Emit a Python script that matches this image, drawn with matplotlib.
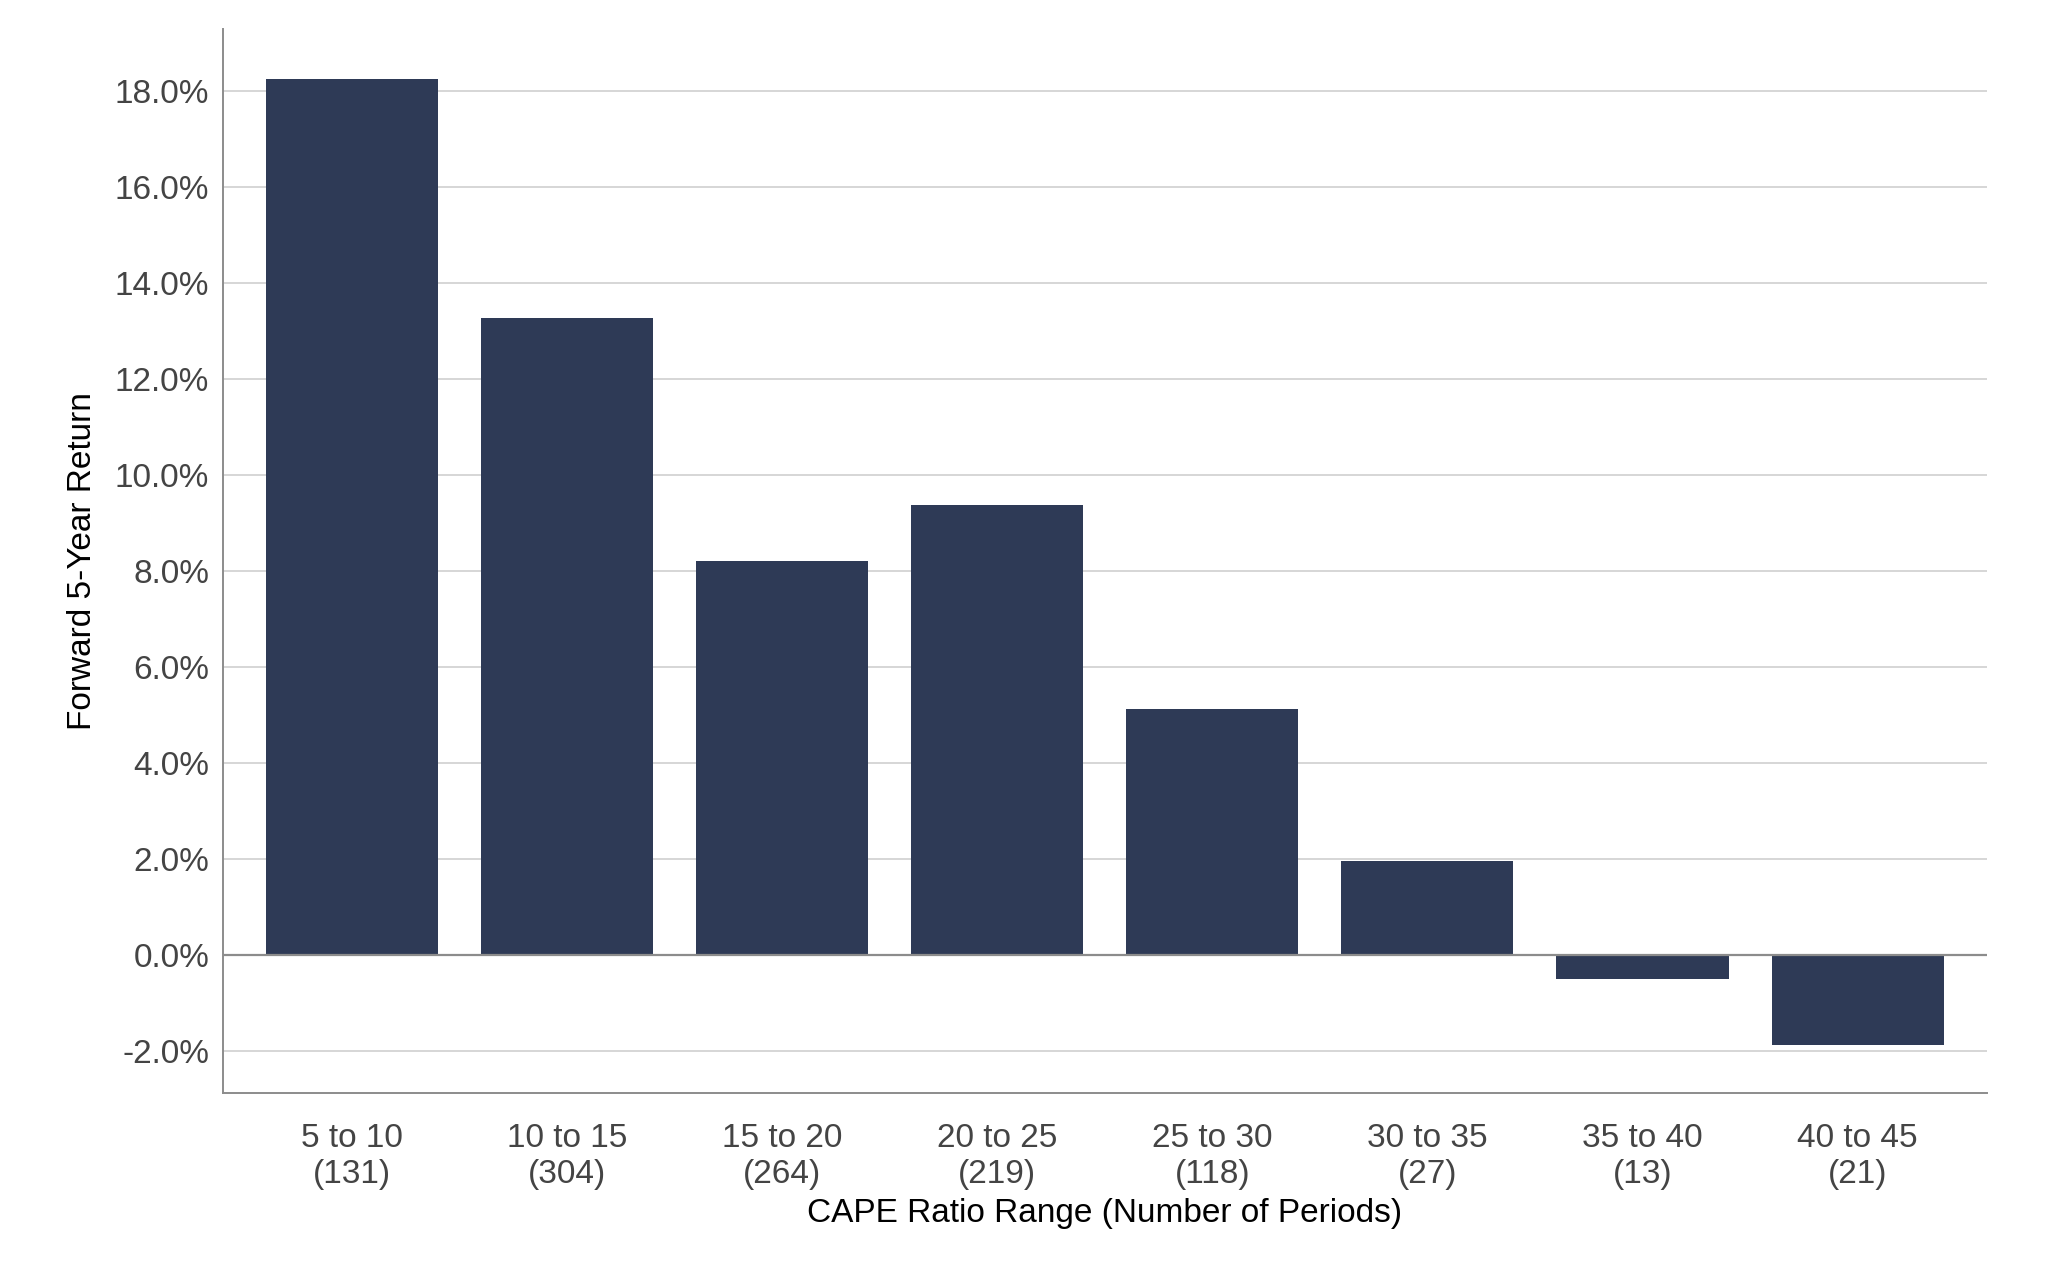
import numpy as np
import matplotlib.pyplot as plt
from matplotlib.ticker import FuncFormatter

plt.rcParams['font.family'] = ['Liberation Sans', 'DejaVu Sans']

ranges = ["5 to 10", "10 to 15", "15 to 20", "20 to 25", "25 to 30", "30 to 35", "35 to 40", "40 to 45"]
periods = [131, 304, 264, 219, 118, 27, 13, 21]
returns = [18.27, 13.28, 8.21, 9.37, 5.12, 1.96, -0.50, -1.87]

labels = [f"{r}\n({n})" for r, n in zip(ranges, periods)]

fig = plt.figure(figsize=(20.48, 12.66), dpi=100)
ax = fig.add_axes([0.109, 0.137, 0.861, 0.840])

x = np.arange(len(ranges))
ax.bar(x, returns, width=0.8, color='#2e3a56', zorder=3)
ax.axhline(0, color='#8c8c8c', lw=1.6, zorder=4)

ax.set_yticks(np.arange(-2, 19, 2))
ax.yaxis.set_major_formatter(FuncFormatter(lambda v, p: f"{v:.1f}%"))
ax.set_ylim(-2.87, 19.3)
ax.set_xlim(-0.6, 7.6)
ax.set_xticks(x)
ax.set_xticklabels(labels)
ax.grid(axis='y', color='#d0d0d0', lw=1.2, zorder=0)

for s in ['top', 'right']:
    ax.spines[s].set_visible(False)
for s in ['left', 'bottom']:
    ax.spines[s].set_color('#8c8c8c')
    ax.spines[s].set_linewidth(1.4)
ax.tick_params(length=0, labelsize=24, colors='#444444', pad=10)
ax.tick_params(axis='x', pad=22)

ax.set_ylabel("Forward 5-Year Return", fontsize=24, color='black', labelpad=12)
ax.set_xlabel("CAPE Ratio Range (Number of Periods)", fontsize=24, color='black', labelpad=6)

plt.savefig("out.png", dpi=100)
